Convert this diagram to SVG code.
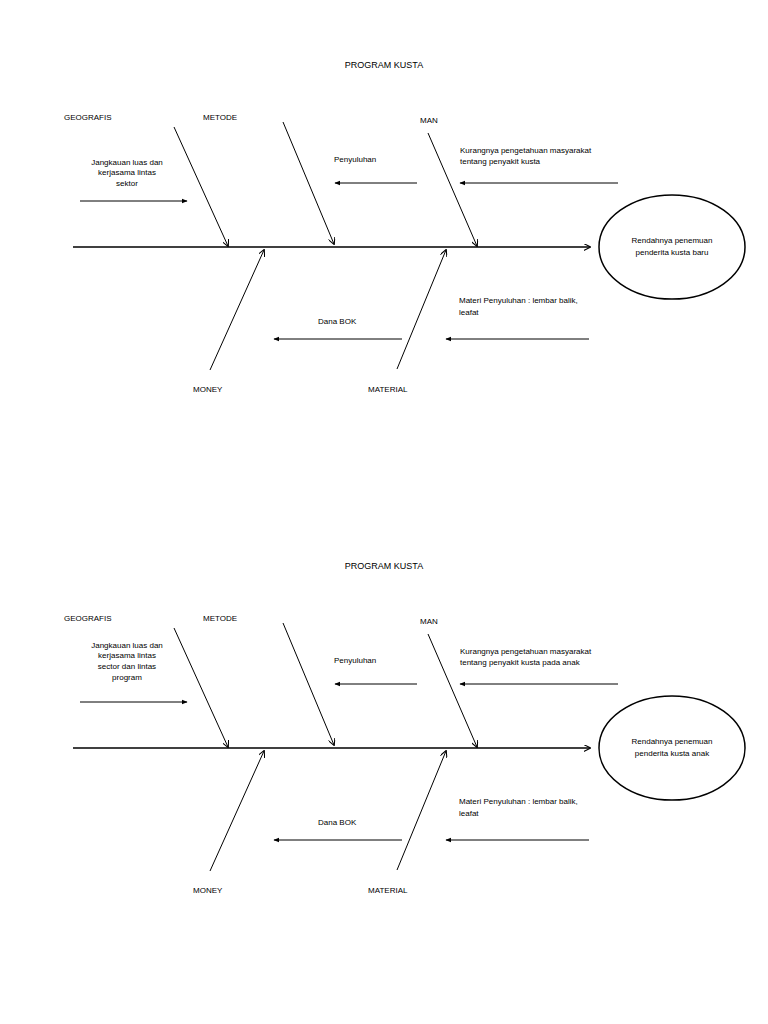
<svg xmlns="http://www.w3.org/2000/svg" width="768" height="1024" viewBox="0 0 768 1024">
<style>
text{font-family:"Liberation Sans",Arial,sans-serif;font-size:8px;fill:#000}
.t{font-size:9px}
line{stroke:#000;stroke-width:1}
.sp{stroke-width:1.5}
ellipse{fill:#fff;stroke:#000;stroke-width:1.5}
</style>
<defs>
<marker id="a" viewBox="0 0 10 10" refX="9" refY="5" markerWidth="7" markerHeight="7" orient="auto" markerUnits="userSpaceOnUse"><path d="M0,0 L10,5 L0,10" fill="none" stroke="#000" stroke-width="1.5"/></marker>
<marker id="b" viewBox="0 0 10 10" refX="9" refY="5" markerWidth="6" markerHeight="6" orient="auto" markerUnits="userSpaceOnUse"><path d="M0,1 L10,5 L0,9 Z" fill="#000"/></marker>
</defs>
<rect width="768" height="1024" fill="#fff"/>
<g id="d1">
<text class="t" x="384" y="68" text-anchor="middle">PROGRAM KUSTA</text>
<g id="connectors1">
<line class="sp" x1="73" y1="247" x2="590" y2="247" marker-end="url(#a)"/>
<line x1="174" y1="127" x2="228" y2="246" marker-end="url(#a)"/>
<line x1="283" y1="122" x2="334" y2="244" marker-end="url(#a)"/>
<line x1="428" y1="133" x2="477" y2="246" marker-end="url(#a)"/>
<line x1="210" y1="370" x2="264" y2="250" marker-end="url(#a)"/>
<line x1="397" y1="369" x2="446" y2="250" marker-end="url(#a)"/>
<line x1="80" y1="201" x2="187" y2="201" marker-end="url(#b)"/>
<line x1="417" y1="183" x2="335" y2="183" marker-end="url(#b)"/>
<line x1="618" y1="183" x2="460" y2="183" marker-end="url(#b)"/>
<line x1="589" y1="339" x2="446" y2="339" marker-end="url(#b)"/>
<line x1="402" y1="339" x2="274" y2="339" marker-end="url(#b)"/>
</g>
<g id="effect1"><ellipse cx="672" cy="247" rx="73" ry="52"/>
<text x="672" y="243" text-anchor="middle">Rendahnya penemuan</text>
<text x="672" y="255" text-anchor="middle">penderita kusta baru</text></g>
<g id="geografis1"><text x="64" y="120">GEOGRAFIS</text>
<text x="127" y="165" text-anchor="middle">Jangkauan luas dan</text>
<text x="127" y="175" text-anchor="middle">kerjasama lintas</text>
<text x="127" y="186" text-anchor="middle">sektor</text></g>
<g id="metode1"><text x="203" y="120">METODE</text><text x="334" y="162">Penyuluhan</text></g>
<g id="man1"><text x="420" y="123">MAN</text>
<text x="460" y="153">Kurangnya pengetahuan masyarakat</text>
<text x="460" y="164">tentang penyakit kusta</text></g>
<g id="money1"><text x="193" y="392">MONEY</text><text x="318" y="324">Dana BOK</text></g>
<g id="material1"><text x="368" y="392">MATERIAL</text>
<text x="459" y="303">Materi Penyuluhan : lembar balik,</text>
<text x="459" y="315">leafat</text></g>
</g>
<g id="d2" transform="translate(0,501)">
<text class="t" x="384" y="68" text-anchor="middle">PROGRAM KUSTA</text>
<g id="connectors2">
<line class="sp" x1="73" y1="247" x2="590" y2="247" marker-end="url(#a)"/>
<line x1="174" y1="127" x2="228" y2="246" marker-end="url(#a)"/>
<line x1="283" y1="122" x2="334" y2="244" marker-end="url(#a)"/>
<line x1="428" y1="133" x2="477" y2="246" marker-end="url(#a)"/>
<line x1="210" y1="370" x2="264" y2="250" marker-end="url(#a)"/>
<line x1="397" y1="369" x2="446" y2="250" marker-end="url(#a)"/>
<line x1="80" y1="201" x2="187" y2="201" marker-end="url(#b)"/>
<line x1="417" y1="183" x2="335" y2="183" marker-end="url(#b)"/>
<line x1="618" y1="183" x2="460" y2="183" marker-end="url(#b)"/>
<line x1="589" y1="339" x2="446" y2="339" marker-end="url(#b)"/>
<line x1="402" y1="339" x2="274" y2="339" marker-end="url(#b)"/>
</g>
<g id="effect2"><ellipse cx="672" cy="247" rx="73" ry="52"/>
<text x="672" y="243" text-anchor="middle">Rendahnya penemuan</text>
<text x="672" y="255" text-anchor="middle">penderita kusta anak</text></g>
<g id="geografis2"><text x="64" y="120">GEOGRAFIS</text>
<text x="127" y="147" text-anchor="middle">Jangkauan luas dan</text>
<text x="127" y="157" text-anchor="middle">kerjasama lintas</text>
<text x="127" y="168" text-anchor="middle">sector dan lintas</text>
<text x="127" y="179" text-anchor="middle">program</text></g>
<g id="metode2"><text x="203" y="120">METODE</text><text x="334" y="162">Penyuluhan</text></g>
<g id="man2"><text x="420" y="123">MAN</text>
<text x="460" y="153">Kurangnya pengetahuan masyarakat</text>
<text x="460" y="164">tentang penyakit kusta pada anak</text></g>
<g id="money2"><text x="193" y="392">MONEY</text><text x="318" y="324">Dana BOK</text></g>
<g id="material2"><text x="368" y="392">MATERIAL</text>
<text x="459" y="303">Materi Penyuluhan : lembar balik,</text>
<text x="459" y="315">leafat</text></g>
</g>
</svg>
